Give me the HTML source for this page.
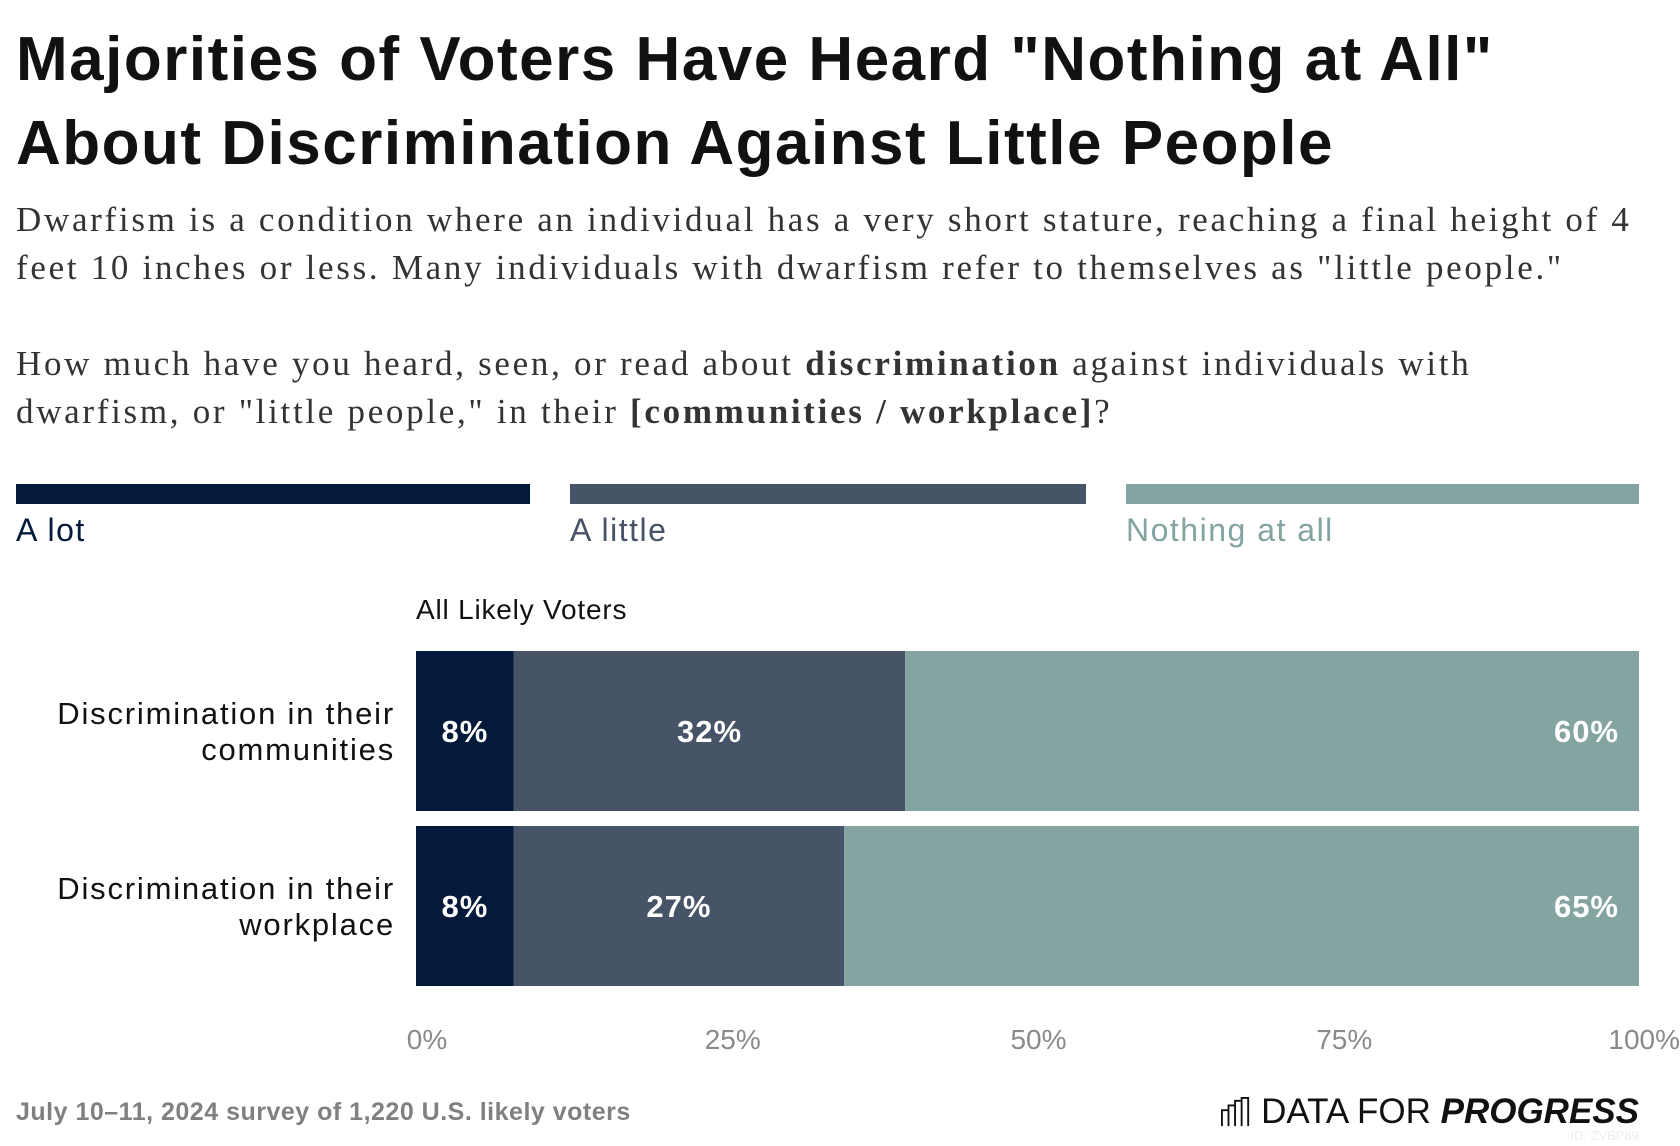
<!DOCTYPE html>
<html><head><meta charset="utf-8"><style>
body{margin:0;width:1680px;height:1146px;background:#fff;position:relative;overflow:hidden;font-family:"Liberation Sans",sans-serif}
.a{position:absolute;white-space:nowrap}
h1{position:absolute;left:16px;top:18px;margin:0;font-size:62px;line-height:84px;font-weight:bold;color:#111;letter-spacing:1.5px;white-space:nowrap}
.sub{position:absolute;left:16px;font-family:"Liberation Serif",serif;font-size:35px;line-height:48px;color:#333;letter-spacing:2.7px;white-space:nowrap}
</style></head><body>
<h1>Majorities of Voters Have Heard "Nothing at All"<br>About Discrimination Against Little People</h1>
<div class="sub" style="top:196px">Dwarfism is a condition where an individual has a very short stature, reaching a final height of 4<br>feet 10 inches or less. Many individuals with dwarfism refer to themselves as "little people."</div>
<div class="sub" style="top:340px">How much have you heard, seen, or read about <b>discrimination</b> against individuals with<br>dwarfism, or "little people," in their <b>[communities / workplace]</b>?</div>
<div id="legend"></div>
<div class="a" style="left:416px;top:594px;font-size:28px;color:#111;letter-spacing:0.8px">All Likely Voters</div>
<svg id="chart" width="1680" height="1146" style="position:absolute;left:0;top:0"></svg>
<div class="a" style="left:16px;top:1098px;font-size:25px;font-weight:bold;color:#808080;letter-spacing:0.5px">July 10–11, 2024 survey of 1,220 U.S. likely voters</div>
<div class="a" style="right:41px;top:1092px;font-size:35px;color:#111;display:flex;align-items:center">
<svg width="30" height="30" viewBox="0 0 32 32" style="margin-right:10px"><path d="M1 31V14h7v17M8 31V9h7v22M15 31V4h7v27M22 31V1h7v30" fill="none" stroke="#111" stroke-width="2"/></svg>
<span>DATA FOR <b><i>PROGRESS</i></b></span></div>
<div class="a" style="right:41px;top:1128px;font-size:13px;color:#eee">ID: ZVBP89</div>
<script>
const categories=["Discrimination in their communities","Discrimination in their workplace"];
const catLines=[["Discrimination in their","communities"],["Discrimination in their","workplace"]];
const seriesNames=["A lot","A little","Nothing at all"];
const aLot=[8,8];
const aLittle=[32,27];
const nothing=[60,65];
const ticks=[0,25,50,75,100];
const colors=["#031a3a","#475467","#84a4a1"];
const X0=416,X1=1639;
const x=v=>X0+(X1-X0)*v/100;
const rowTop=[651,826],rowH=160;
const svg=document.getElementById('chart');
const NS="http://www.w3.org/2000/svg";
function mk(t,a){const e=document.createElementNS(NS,t);for(const k in a)e.setAttribute(k,a[k]);svg.appendChild(e);return e;}
const lg=document.getElementById('legend');
const lx=[16,570,1126],lw=[514,516,513];
seriesNames.forEach((n,i)=>{
 const b=document.createElement('div');b.className='a';
 b.style.cssText=`left:${lx[i]}px;top:484px;width:${lw[i]}px;height:20px;background:${colors[i]}`;
 
 
 lg.appendChild(b);
 const t=document.createElement('div');t.className='a';
 t.style.cssText=`left:${lx[i]}px;top:512px;font-size:32px;letter-spacing:1.5px;color:${colors[i]}`;
 t.textContent=n;
 
 
 lg.appendChild(t);
});
const series=[aLot,aLittle,nothing];
categories.forEach((c,r)=>{
 const y=rowTop[r];let acc=0;
 series.forEach((s,i)=>{
  const v=s[r];
  const rect=mk('rect',{x:x(acc),y:y,width:x(acc+v)-x(acc),height:rowH,fill:colors[i]});
  
  
  const last=i===series.length-1;
  const tx=last?x(acc+v)-20:(x(acc)+x(acc+v))/2;
  const t=mk('text',{x:tx,y:y+rowH/2+11,'text-anchor':last?'end':'middle','font-size':31,'font-weight':'bold',fill:'#fff','font-family':'Liberation Sans','letter-spacing':1});
  t.textContent=v+'%';
  
  
  acc+=v;
 });
 catLines[r].forEach((ln,k)=>{
  const t=mk('text',{x:395,y:y+rowH/2-7+k*36,'text-anchor':'end','font-size':31,fill:'#111','font-family':'Liberation Sans','letter-spacing':1.8});
  t.textContent=ln;
  
  
 });
});
ticks.forEach((v,i)=>{
 const last=i===ticks.length-1;
 const t=mk('text',{x:last?1680:x(v)+11,y:1049,'text-anchor':last?'end':'middle','font-size':28,fill:'#8a8a8a','font-family':'Liberation Sans'});
 t.textContent=v+'%';
 
 
});
</script>
</body></html>
